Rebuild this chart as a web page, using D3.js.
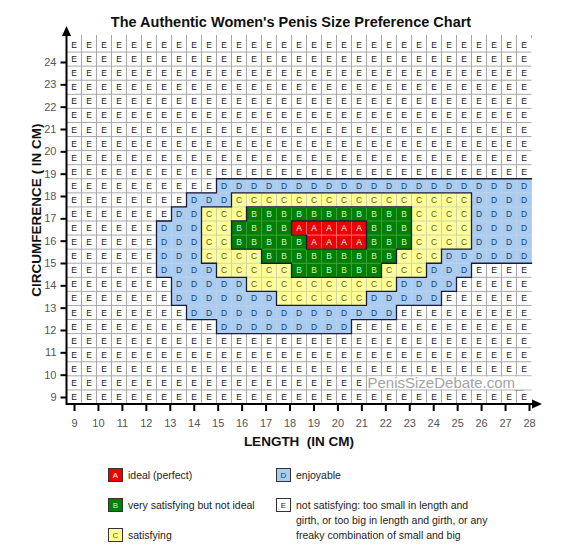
<!DOCTYPE html>
<html><head><meta charset="utf-8">
<script src="https://cdn.jsdelivr.net/npm/d3@7/dist/d3.min.js"></script>
<style>body{margin:0;background:#fff}svg{display:block}</style>
</head><body><svg id="c" width="570" height="553"></svg>
<script>
const chartTitle = "The Authentic Women's Penis Size Preference Chart";
const xTitle = "LENGTH  (IN CM)";
const yTitle = "CIRCUMFERENCE ( IN CM)";
const xTickValues = [9,10,11,12,13,14,15,16,17,18,19,20,21,22,23,24,25,26,27,28];
const yTickValues = [9,10,11,12,13,14,15,16,17,18,19,20,21,22,23,24];
const categories = ["A","B","C","D","E"];
const categoryLabels = [
  ["ideal (perfect)"],
  ["very satisfying but not ideal"],
  ["satisfying"],
  ["enjoyable"],
  ["not satisfying: too small in length and","girth, or too big in length and girth, or any","freaky combination of small and big"]
];
// grid rows, top to bottom, run-length encoded [category, count]
const gridRows = [
  [["E",31]],[["E",31]],[["E",31]],[["E",31]],[["E",31]],
  [["E",31]],[["E",31]],[["E",31]],[["E",31]],[["E",31]],
  [["E",10],["D",21]],
  [["E",8],["D",3],["C",16],["D",4]],
  [["E",7],["D",2],["C",3],["B",11],["C",4],["D",4]],
  [["E",6],["D",3],["C",2],["B",4],["A",5],["B",3],["C",4],["D",4]],
  [["E",6],["D",3],["C",2],["B",5],["A",4],["B",3],["C",4],["D",4]],
  [["E",6],["D",3],["C",4],["B",9],["C",3],["D",6]],
  [["E",6],["D",4],["C",5],["B",6],["C",3],["D",3],["E",4]],
  [["E",7],["D",5],["C",10],["D",4],["E",5]],
  [["E",7],["D",7],["C",6],["D",5],["E",6]],
  [["E",8],["D",14],["E",9]],
  [["E",10],["D",9],["E",12]],
  [["E",31]],[["E",31]],[["E",31]],[["E",31]],[["E",31]]
];
const watermark = "PenisSizeDebate.com_";

const fills = {A:"#ee0000",B:"#007f00",C:"#ffff99",D:"#a9cdf2",E:"#ffffff"};
const inner = {A:"#ff6a6a",B:"#3c9c3c",C:"#d2d2a8",D:"#bccfe4",E:"#a8a8a8"};
const letterColor = {A:"#ffffff",B:"#d8f0d8",C:"#5a5a20",D:"#1c3c6c",E:"#1a1a1a"};

const grid = gridRows.map(r => r.flatMap(([c,n]) => Array(n).fill(c)));
const nCols = grid[0].length, nRows = grid.length;
grid.forEach((r,i)=>{ if(r.length!==nCols) console.error("row",i,r.length); });

const svg = d3.select("#c");
const font = "'Liberation Sans', Arial, sans-serif";

const col = d3.scaleBand().domain(d3.range(nCols)).range([66.5, 531.5]);
const row = d3.scaleBand().domain(d3.range(nRows)).range([38, 404]);
const x = d3.scaleLinear().domain([9,28]).range([74,529]);
const y = d3.scaleLinear().domain([9,24]).range([397,62]);

const cells = [];
grid.forEach((r,ri)=>r.forEach((c,ci)=>cells.push({r:ri,c:ci,k:c})));

const g = svg.append("g");
g.selectAll("rect.cell").data(cells).join("rect")
  .attr("x",d=>col(d.c)).attr("y",d=>row(d.r))
  .attr("width",col.bandwidth()).attr("height",row.bandwidth())
  .attr("fill",d=>fills[d.k]);
// inner grid lines (right & bottom edge of each cell)
g.selectAll("path.gl").data(cells).join("path")
  .attr("d",d=>{
    const x0=col(d.c), y0=row(d.r), w=col.bandwidth(), h=row.bandwidth();
    let p="";
    if(d.c<nCols-1 || d.k!=="E") p+=`M${x0+w},${y0}V${y0+h}`;
    p+=`M${x0},${y0+h}H${x0+w}`;
    if(d.r===0) p+=`M${x0+w},${y0-3}V${y0}`;
    return p;
  })
  .attr("stroke",d=>inner[d.k]).attr("stroke-width",1).attr("fill","none");
g.selectAll("text.lt").data(cells).join("text")
  .attr("x",d=>col(d.c)+col.bandwidth()/2).attr("y",d=>row(d.r)+row.bandwidth()/2)
  .attr("dy","0.36em").attr("text-anchor","middle")
  .attr("font-family",font).attr("font-size",8.5)
  .attr("fill",d=>letterColor[d.k]).text(d=>d.k);

// region borders
let bp="";
cells.forEach(d=>{
  const x0=col(d.c), y0=row(d.r), w=col.bandwidth(), h=row.bandwidth();
  if(d.c<nCols-1 && grid[d.r][d.c+1]!==d.k) bp+=`M${x0+w},${y0}V${y0+h}`;
  if(d.r<nRows-1 && grid[d.r+1][d.c]!==d.k) bp+=`M${x0},${y0+h}H${x0+w}`;
});
g.append("path").attr("d",bp).attr("stroke","#1a1a3a").attr("stroke-width",1.3)
  .attr("fill","none").attr("stroke-linecap","square");

// watermark
const wr = 24, wc = 20;
svg.append("rect").attr("x",col(wc)+0.5).attr("y",row(wr)+0.6)
  .attr("width",col(nCols-1)+col.bandwidth()-col(wc)-0.5).attr("height",row.bandwidth()-1.2)
  .attr("fill","#fff");
svg.append("text").attr("x",col(wc)+1).attr("y",row(wr)+row.bandwidth()/2)
  .attr("dy","0.36em").attr("font-family",font).attr("font-size",15)
  .attr("fill","#a4a4a4").text(watermark);

// axes
const xAxis = svg.append("g").attr("transform","translate(0,404)")
  .call(d3.axisBottom(x).tickValues(xTickValues).tickSize(7).tickPadding(8).tickFormat(d3.format("d")));
xAxis.select(".domain").remove();
xAxis.selectAll(".tick line").attr("stroke","#000").attr("stroke-width",2);
xAxis.selectAll(".tick text").attr("font-family",font).attr("font-size",11).attr("fill","#555");

const yAxis = svg.append("g").attr("transform","translate(66.5,0)")
  .call(d3.axisLeft(y).tickValues(yTickValues).tickSize(6).tickPadding(4).tickFormat(d3.format("d")));
yAxis.select(".domain").remove();
yAxis.selectAll(".tick line").attr("stroke","#000").attr("stroke-width",2);
yAxis.selectAll(".tick text").attr("font-family",font).attr("font-size",11).attr("fill","#555");

svg.append("line").attr("x1",66.5).attr("x2",534).attr("y1",404).attr("y2",404)
  .attr("stroke","#000").attr("stroke-width",2);
svg.append("path").attr("d","M532,399.5L542,404L532,408.5Z").attr("fill","#000");
svg.append("line").attr("x1",66.5).attr("x2",66.5).attr("y1",405).attr("y2",34)
  .attr("stroke","#000").attr("stroke-width",2);
svg.append("path").attr("d","M62,36L66.5,26L71,36Z").attr("fill","#000");

// titles
svg.append("text").attr("x",291).attr("y",27).attr("text-anchor","middle")
  .attr("font-family",font).attr("font-weight","bold").attr("font-size",14.5)
  .attr("fill","#111").text(chartTitle);
svg.append("text").attr("x",299).attr("y",446).attr("text-anchor","middle")
  .attr("font-family",font).attr("font-weight","bold").attr("font-size",13.5)
  .attr("fill","#111").attr("xml:space","preserve").style("white-space","pre").text(xTitle);
svg.append("text").attr("transform","translate(41,210) rotate(-90)").attr("text-anchor","middle")
  .attr("font-family",font).attr("font-weight","bold").attr("font-size",13.5)
  .attr("fill","#111").text(yTitle);

// legend
const legendPos = [[108,468],[108,498],[108,528],[276,468],[276,498]];
const lg = svg.append("g").selectAll("g").data(categories).join("g")
  .attr("transform",(d,i)=>`translate(${legendPos[i][0]},${legendPos[i][1]})`);
lg.append("rect").attr("x",0.5).attr("y",0.5).attr("width",14).attr("height",13)
  .attr("fill",d=>fills[d]).attr("stroke","#333").attr("stroke-width",1);
lg.append("text").attr("x",7.5).attr("y",7).attr("dy","0.36em").attr("text-anchor","middle")
  .attr("font-family",font).attr("font-size",8).attr("fill",d=>letterColor[d]).text(d=>d);
lg.each(function(d,i){
  d3.select(this).selectAll("text.lab").data(categoryLabels[i]).join("text").attr("class","lab")
    .attr("x",20).attr("y",(t,j)=>11+j*15)
    .attr("font-family",font).attr("font-size",10.5).attr("fill","#222").text(t=>t);
});
</script></body></html>
